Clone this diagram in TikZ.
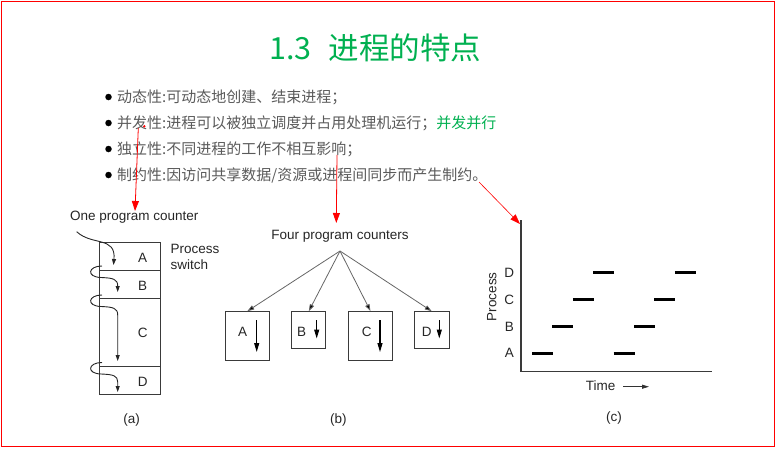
\documentclass[tikz,border=0pt]{standalone}
\usepackage{fontspec}
\setmainfont{Liberation Sans}
\newfontfamily\cjk{Noto Sans CJK SC}
\usetikzlibrary{arrows.meta}
\definecolor{pptgreen}{HTML}{00B050}
\definecolor{txtgray}{HTML}{5A5A5A}
\definecolor{linegray}{HTML}{3A3A3A}
\begin{document}
\begin{tikzpicture}[x=1pt,y=-1pt,
  lbl/.style={font=\fontsize{13.5}{16}\selectfont, inner sep=0pt, text=black!85},
  bullettext/.style={font=\cjk\fontsize{15}{18}\selectfont, text=txtgray, anchor=west, inner sep=0pt},
  bdot/.style={circle, fill=black, inner sep=0pt, minimum size=6.5pt},
  redarrow/.style={draw=red, line width=0.8pt, -{Triangle[length=10pt,width=7pt]}, red},
  pcpath/.style={draw=black!85, line width=0.9pt, -{Triangle[length=6pt,width=4pt]}},
  seg/.style={draw=linegray, line width=1pt, inner sep=0pt, minimum width=61.4pt},
  pbox/.style={draw=linegray, line width=1pt, inner sep=0pt},
  fan/.style={draw=black!60, line width=0.8pt, -{Triangle[length=7pt,width=4.5pt,fill=black]}},
  inarrow/.style={draw=black, line width=1.1pt, -{Triangle[length=9pt,width=5pt]}},
  axis/.style={draw=linegray, line width=1.3pt},
  bar/.style={draw=black, line width=3pt},
]
\useasboundingbox (0,0) rectangle (775,452);
\draw[red, line width=1pt] (1,2) rectangle (774,446);

% title
\node[anchor=west, inner sep=0pt, text=pptgreen, font=\cjk\fontsize{30.5}{36}\selectfont] (title) at (269,48) {1.3\hspace{17pt}进程的特点};

% bullets
\foreach \i/\y in {1/97,2/123,3/149,4/175}{
  \node[bdot] (dot\i) at (108.5,\y) {};
}
\node[bullettext] (l1) at (117,97) {动态性:可动态地创建、结束进程；};
\node[bullettext] (l2) at (117,123) {并发性:进程可以被独立调度并占用处理机运行；\textcolor{pptgreen}{并发并行}};
\node[bullettext] (l3) at (117,149) {独立性:不同进程的工作不相互影响；};
\node[bullettext] (l4) at (117,175) {制约性:因访问共享数据/资源或进程间同步而产生制约。};

% red arrows
\fill[red] (144.3,126.3) circle (1.3pt);
\coordinate (r1s) at (138.3,128);
\coordinate (r1e) at (135,211);
\coordinate (r2s) at (337,155);
\coordinate (r2e) at (336.3,223);
\coordinate (r3s) at (479,182);
\coordinate (r3e) at (520,224);
\draw[redarrow] (r1s) -- (r1e);
\draw[redarrow] (r2s) -- (r2e);
\draw[redarrow, line width=0.6pt] (r3s) -- (r3e);

% (a)
\node[lbl, anchor=west] (opc) at (70,217) {One program counter};
\node[seg, minimum height=28pt] (sA) at (130,256.7) {};
\node[seg, minimum height=28pt] (sB) at (130,284.7) {};
\node[seg, minimum height=67.3pt] (sC) at (130,332.35) {};
\node[seg, minimum height=28pt] (sD) at (130,380) {};
\node[lbl] (tA) at (142.7,258) {A};
\node[lbl] (tB) at (142.7,286) {B};
\node[lbl] (tC) at (142.7,333) {C};
\node[lbl] (tD) at (142.7,381.5) {D};
\node[lbl, anchor=west, align=left, font=\fontsize{13.5}{16}\selectfont] (psw) at (170.5,257) {Process\\switch};
\coordinate (p0s) at (76.7,231.7);
\coordinate (p0e) at (113.5,265);
\draw[pcpath] (p0s) .. controls (92,246) and (116,236) .. (p0e);
\coordinate (p1s) at (102,266);
\coordinate (p1e) at (117.7,292);
\draw[pcpath] (p1s) .. controls (88,266) and (86,277) .. (101,277.5) .. controls (113,278) and (117.7,279) .. (117.7,286) -- (p1e);
\coordinate (p2s) at (102,295);
\coordinate (p2e) at (117.7,361);
\draw[pcpath] (p2s) .. controls (88,295) and (86,306) .. (101,306.5) .. controls (113,307) and (117.7,308) .. (117.7,315) -- (p2e);
\coordinate (p3s) at (102,362.5);
\coordinate (p3e) at (117.7,392);
\draw[pcpath] (p3s) .. controls (88,362.5) and (86,373.5) .. (101,374) .. controls (113,374.5) and (117.7,375.5) .. (117.7,382) -- (p3e);
\node[lbl] (capa) at (131.7,420) {(a)};

% (b)
\node[lbl] (fpc) at (340,236) {Four program counters};
\coordinate (fanpt) at (340,251);
\node[pbox, minimum width=44.3pt, minimum height=48.3pt] (bA) at (247.3,335.85) {};
\node[pbox, minimum width=34.3pt, minimum height=36.6pt] (bB) at (308.8,330) {};
\node[pbox, minimum width=44.4pt, minimum height=48.3pt] (bC) at (370.5,335.85) {};
\node[pbox, minimum width=35.3pt, minimum height=36.6pt] (bD) at (431.7,330) {};
\node[lbl] (lA) at (242.7,331.7) {A};
\node[lbl] (lB) at (301.7,331.7) {B};
\node[lbl] (lC) at (366.7,331.7) {C};
\node[lbl] (lD) at (426.7,331.7) {D};
\draw[fan] (fanpt) -- (bA.north);
\draw[fan] (fanpt) -- (bB.north);
\draw[fan] (fanpt) -- (bC.north);
\draw[fan] (fanpt) -- (bD.north);
\coordinate (aAs) at (256.7,320); \coordinate (aAe) at (256.7,352);
\coordinate (aBs) at (316.7,320); \coordinate (aBe) at (316.7,338.5);
\coordinate (aCs) at (380,320); \coordinate (aCe) at (380,352);
\coordinate (aDs) at (439.3,320); \coordinate (aDe) at (439.3,338.5);
\draw[inarrow] (aAs) -- (aAe);
\draw[inarrow] (aBs) -- (aBe);
\draw[inarrow] (aCs) -- (aCe);
\draw[inarrow] (aDs) -- (aDe);
\node[lbl] (capb) at (338.3,420) {(b)};

% (c)
\coordinate (ytop) at (521,220);
\coordinate (orig) at (521,371.7);
\coordinate (xend) at (712,371.7);
\draw[axis] (ytop) -- (orig) -- (xend);
\node[lbl] (cD) at (509.3,273) {D};
\node[lbl] (cC) at (509.3,300) {C};
\node[lbl] (cB) at (509.3,326.7) {B};
\node[lbl] (cA) at (509.3,353.3) {A};
\node[lbl, rotate=90] (cproc) at (491.7,296.7) {Process};
\foreach \k/\yy in {0/353.3,1/326.7,2/299.5,3/272.3,4/353.3,5/326.7,6/299.5,7/272.3}{
  \draw[bar] ({532+\k*20.4},\yy) -- ({553+\k*20.4},\yy);
}
\node[lbl] (ctime) at (600.7,386) {Time};
\coordinate (tas) at (623,386.7);
\coordinate (tae) at (649,386.7);
\draw[draw=black!80, line width=0.8pt, -{Triangle[length=7pt,width=4pt]}] (tas) -- (tae);
\node[lbl] (capc) at (614,418.3) {(c)};
\end{tikzpicture}
\end{document}
